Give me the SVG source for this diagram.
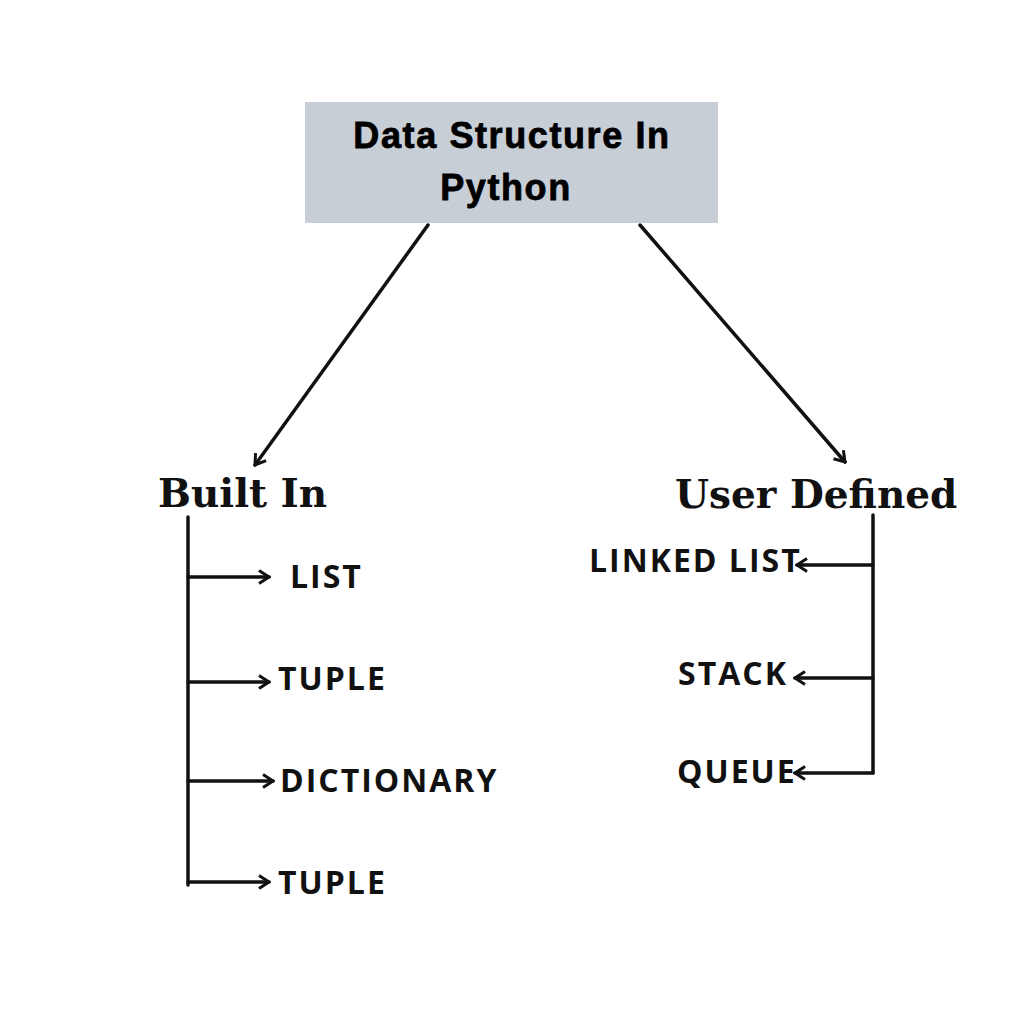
<svg xmlns="http://www.w3.org/2000/svg" width="1024" height="1024" viewBox="0 0 1024 1024">
<style>
.t{font-family:"Liberation Sans",Arial,sans-serif;font-weight:900;font-size:36px;fill:#000;letter-spacing:1.6px;stroke:#000;stroke-width:0.8}
.h{font-family:"DejaVu Serif","Liberation Serif",serif;font-weight:bold;font-size:39px;fill:#111}
.i{font-family:"Open Sans","DejaVu Sans",sans-serif;font-weight:bold;font-size:32px;fill:#111;letter-spacing:2px}
.c{stroke:#111;stroke-width:3.5;fill:none;stroke-linecap:round}
</style>
<defs><marker id="a" viewBox="0 0 14 16" refX="12" refY="8" markerWidth="14" markerHeight="16" markerUnits="userSpaceOnUse" orient="auto"><path d="M2,1.5 L12,8 L2,14.5" fill="none" stroke="#111" stroke-width="3"/></marker></defs>
<rect width="1024" height="1024" fill="#fff"/>
<g id="root"><rect x="305" y="102" width="413" height="121" fill="#c8ced6"/>
<text class="t" x="512" y="148" text-anchor="middle">Data Structure In</text>
<text class="t" x="506" y="200" text-anchor="middle">Python</text></g>
<g id="builtin"><text class="h" x="158" y="507">Built In</text></g>
<g id="userdef"><text class="h" x="675" y="508">User Defined</text></g>
<g id="items">
<text class="i" x="290" y="588">LIST</text>
<text class="i" x="278" y="690">TUPLE</text>
<text class="i" x="280" y="792">DICTIONARY</text>
<text class="i" x="278" y="894">TUPLE</text>
<text class="i" x="589" y="572">LINKED LIST</text>
<text class="i" x="678" y="685">STACK</text>
<text class="i" x="677" y="783">QUEUE</text>
</g>
<g id="connectors">
<line class="c" x1="428" y1="225" x2="255" y2="465" marker-end="url(#a)"/>
<line class="c" x1="640" y1="225" x2="845" y2="462" marker-end="url(#a)"/>
<line class="c" x1="188" y1="517" x2="188" y2="885"/>
<line class="c" x1="188" y1="577" x2="269" y2="577" marker-end="url(#a)"/>
<line class="c" x1="188" y1="682" x2="269" y2="682" marker-end="url(#a)"/>
<line class="c" x1="188" y1="781" x2="273" y2="781" marker-end="url(#a)"/>
<line class="c" x1="188" y1="882" x2="269" y2="882" marker-end="url(#a)"/>
<line class="c" x1="873" y1="515" x2="873" y2="773"/>
<line class="c" x1="873" y1="565" x2="797" y2="565" marker-end="url(#a)"/>
<line class="c" x1="873" y1="678" x2="795" y2="678" marker-end="url(#a)"/>
<line class="c" x1="873" y1="773" x2="795" y2="773" marker-end="url(#a)"/>
</g>
</svg>
